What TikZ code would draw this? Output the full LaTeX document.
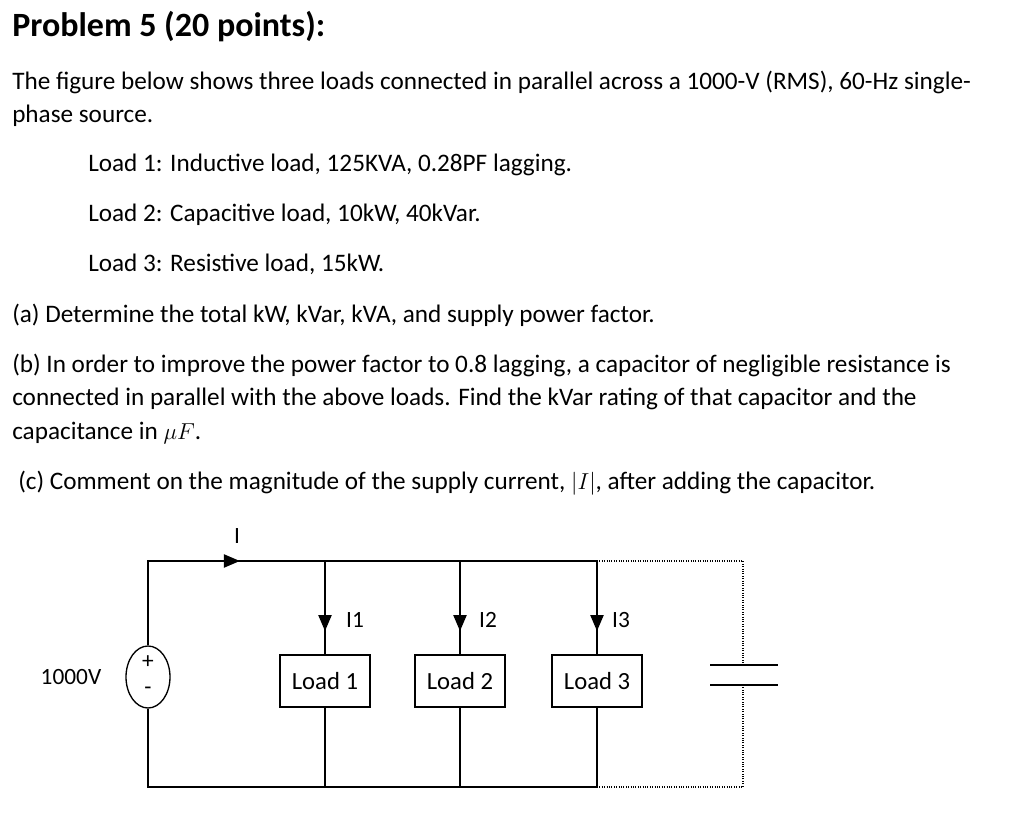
\documentclass[tikz,border=0pt]{standalone}
\usepackage{fontspec}
\setmainfont{Carlito}
\usetikzlibrary{arrows.meta,decorations.markings,shapes.geometric}
\begin{document}
\begin{tikzpicture}[x=0.75pt,y=-0.75pt,
  txt/.style={anchor=base west,inner sep=0,font=\fontsize{18.9}{22}\selectfont},
  wire/.style={line width=1pt},
  dot/.style={line width=0.8pt,densely dotted},
  loadbox/.style={draw,line width=1pt,minimum width=67.5pt,minimum height=39pt,font=\fontsize{18.5}{22}\selectfont},
  lbl/.style={inner sep=0,font=\fontsize{17.5}{20}\selectfont},
  arr/.style={postaction={decorate},decoration={markings,mark=at position #1 with {\arrow{Triangle[length=12pt,width=10pt]}}}}]
\useasboundingbox (0,0) rectangle (1024,827);
\node[anchor=base west,inner sep=0,font=\fontsize{25.5}{30}\selectfont\bfseries] (title) at (12,37) {Problem 5 (20 points):};
\node[txt] (t1) at (12,90) {The figure below shows three loads connected in parallel across a 1000-V (RMS), 60-Hz single-};
\node[txt] (t2) at (12,123) {phase source.};
\node[txt] (l1) at (88,172) {Load 1: Inductive load, 125KVA, 0.28PF lagging.};
\node[txt] (l2) at (88,222) {Load 2: Capacitive load, 10kW, 40kVar.};
\node[txt] (l3) at (88,272) {Load 3: Resistive load, 15kW.};
\node[txt] (a) at (12,322) {(a) Determine the total kW, kVar, kVA, and supply power factor.};
\node[txt] (b1) at (12,372) {(b) In order to improve the power factor to 0.8 lagging, a capacitor of negligible resistance is};
\node[txt] (b2) at (12,405) {connected in parallel with the above loads. Find the kVar rating of that capacitor and the};
\node[txt] (b3) at (12,439) {capacitance in $\mu F$.};
\node[txt] (c) at (18,489) {(c) Comment on the magnitude of the supply current, $|I|$, after adding the capacitor.};
% circuit
\node[draw,ellipse,line width=1pt,minimum width=33pt,minimum height=46.5pt,inner sep=0] (src) at (148,677) {};
\node[lbl] at (148,662) {+};
\node[lbl] at (148,691) {-};
\node[lbl] (vl) at (71,677) {1000V};
\coordinate (tl) at (148,561); \coordinate (bl) at (148,787);
\coordinate (tc) at (743,561); \coordinate (bc) at (743,787);
\node[loadbox] (L1) at (325,681) {Load 1};
\node[loadbox] (L2) at (460,681) {Load 2};
\node[loadbox] (L3) at (597,681) {Load 3};
\coordinate (j1) at (325,561); \coordinate (j2) at (460,561); \coordinate (j3) at (597,561);
\coordinate (k1) at (325,787); \coordinate (k2) at (460,787); \coordinate (k3) at (597,787);
\draw[wire] (src.north) -- (tl) -- (j1);
\draw[wire,arr=0.9] (tl) -- (250,561);
\draw[wire] (j1) -- (j3);
\draw[wire] (src.south) -- (bl) -- (k3);
\draw[wire,arr=0.75] (j1) -- (L1.north);
\draw[wire,arr=0.75] (j2) -- (L2.north);
\draw[wire,arr=0.75] (j3) -- (L3.north);
\draw[wire] (L1.south) -- (k1); \draw[wire] (L2.south) -- (k2); \draw[wire] (L3.south) -- (k3);
\node[lbl] (I) at (237,536) {I};
\node[lbl] (I1) at (355,620) {I1};
\node[lbl] (I2) at (488,620) {I2};
\node[lbl] (I3) at (621,620) {I3};
\coordinate (p1) at (743,665); \coordinate (p2) at (743,685);
\draw[dot] (j3) -- (tc) -- (p1);
\draw[dot] (k3) -- (bc) -- (p2);
\draw[wire] (710,665) -- (778,665);
\draw[wire] (710,685) -- (778,685);
\end{tikzpicture}
\end{document}
